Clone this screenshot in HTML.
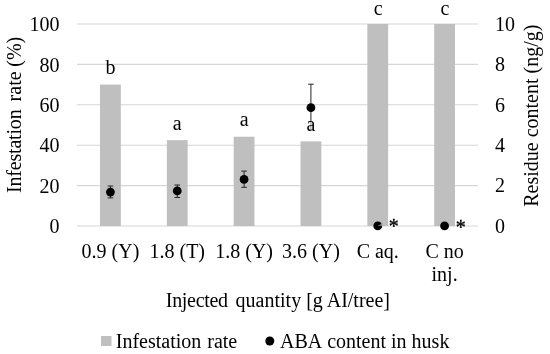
<!DOCTYPE html><html><head><meta charset="utf-8"><style>html,body{margin:0;padding:0;background:#fff;width:550px;height:354px;overflow:hidden}svg{display:block}text{font-family:"Liberation Serif","Times New Roman",serif;font-size:20px;fill:#000}</style></head><body>
<svg width="550" height="354" viewBox="0 0 550 354">
<rect width="550" height="354" fill="#fff"/>
<line x1="77.0" y1="226.00" x2="478.0" y2="226.00" stroke="#d6d6d6" stroke-width="1.1"/>
<line x1="77.0" y1="185.60" x2="478.0" y2="185.60" stroke="#d6d6d6" stroke-width="1.1"/>
<line x1="77.0" y1="145.20" x2="478.0" y2="145.20" stroke="#d6d6d6" stroke-width="1.1"/>
<line x1="77.0" y1="104.80" x2="478.0" y2="104.80" stroke="#d6d6d6" stroke-width="1.1"/>
<line x1="77.0" y1="64.40" x2="478.0" y2="64.40" stroke="#d6d6d6" stroke-width="1.1"/>
<line x1="77.0" y1="24.00" x2="478.0" y2="24.00" stroke="#d6d6d6" stroke-width="1.1"/>
<rect x="100.02" y="84.60" width="20.8" height="141.40" fill="#bfbfbf"/>
<rect x="166.85" y="140.15" width="20.8" height="85.85" fill="#bfbfbf"/>
<rect x="233.68" y="136.72" width="20.8" height="89.28" fill="#bfbfbf"/>
<rect x="300.52" y="141.36" width="20.8" height="84.64" fill="#bfbfbf"/>
<rect x="367.35" y="24.00" width="20.8" height="202.00" fill="#bfbfbf"/>
<rect x="434.18" y="24.00" width="20.8" height="202.00" fill="#bfbfbf"/>
<line x1="110.42" y1="186.0" x2="110.42" y2="197.9" stroke="#262626" stroke-width="1"/>
<line x1="107.62" y1="197.9" x2="113.22" y2="197.9" stroke="#262626" stroke-width="1"/>
<line x1="107.62" y1="186.0" x2="113.22" y2="186.0" stroke="#262626" stroke-width="1"/>
<circle cx="110.42" cy="192.1" r="4.4" fill="#000"/>
<line x1="177.25" y1="185.0" x2="177.25" y2="197.5" stroke="#262626" stroke-width="1"/>
<line x1="174.45" y1="197.5" x2="180.05" y2="197.5" stroke="#262626" stroke-width="1"/>
<line x1="174.45" y1="185.0" x2="180.05" y2="185.0" stroke="#262626" stroke-width="1"/>
<circle cx="177.25" cy="190.9" r="4.4" fill="#000"/>
<line x1="244.08" y1="171.1" x2="244.08" y2="187.3" stroke="#262626" stroke-width="1"/>
<line x1="241.28" y1="187.3" x2="246.88" y2="187.3" stroke="#262626" stroke-width="1"/>
<line x1="241.28" y1="171.1" x2="246.88" y2="171.1" stroke="#262626" stroke-width="1"/>
<circle cx="244.08" cy="179.4" r="4.4" fill="#000"/>
<line x1="310.92" y1="84.2" x2="310.92" y2="122" stroke="#262626" stroke-width="1"/>
<line x1="310.92" y1="122" x2="310.92" y2="130" stroke="#8c8c8c" stroke-width="1"/>
<line x1="308.12" y1="84.2" x2="313.72" y2="84.2" stroke="#262626" stroke-width="1"/>
<circle cx="310.92" cy="107.7" r="4.4" fill="#000"/>
<circle cx="377.75" cy="225.9" r="4.4" fill="#000"/>
<circle cx="444.58" cy="225.9" r="4.4" fill="#000"/>
<path d="M377.7 225.7 L382.2 223.7 L382.5 225.7 Z" fill="#a0a0a0"/>
<text x="110.42" y="74.3" text-anchor="middle">b</text>
<text x="177.25" y="130.0" text-anchor="middle">a</text>
<text x="244.08" y="126.4" text-anchor="middle">a</text>
<text x="310.92" y="131.0" text-anchor="middle">a</text>
<text x="378.15" y="14.5" text-anchor="middle">c</text>
<text x="444.98" y="14.5" text-anchor="middle">c</text>
<text x="388.75" y="232.5" stroke="#000" stroke-width="0.35">*</text>
<text x="455.78" y="233.7" stroke="#000" stroke-width="0.35">*</text>
<text x="59.6" y="233.10" text-anchor="end">0</text>
<text x="495" y="232.70">0</text>
<text x="59.6" y="192.70" text-anchor="end">20</text>
<text x="495" y="192.30">2</text>
<text x="59.6" y="152.30" text-anchor="end">40</text>
<text x="495" y="151.90">4</text>
<text x="59.6" y="111.90" text-anchor="end">60</text>
<text x="495" y="111.50">6</text>
<text x="59.6" y="71.50" text-anchor="end">80</text>
<text x="495" y="71.10">8</text>
<text x="59.6" y="31.10" text-anchor="end">100</text>
<text x="495" y="30.70">10</text>
<text x="110.42" y="257.8" text-anchor="middle">0.9 (Y)</text>
<text x="177.25" y="257.8" text-anchor="middle">1.8 (T)</text>
<text x="244.08" y="257.8" text-anchor="middle">1.8 (Y)</text>
<text x="310.92" y="257.8" text-anchor="middle">3.6 (Y)</text>
<text x="377.75" y="257.8" text-anchor="middle">C aq.</text>
<text x="444.58" y="257.8" text-anchor="middle">C no</text>
<text x="444.58" y="280.8" text-anchor="middle">inj.</text>
<text y="306.8"><tspan x="165.8" letter-spacing="-0.3">Injected</tspan><tspan x="235.6">quantity [g AI/tree]</tspan></text>
<text transform="translate(21.4,0) rotate(-90)"><tspan x="-193.0" letter-spacing="-0.19">Infestation</tspan><tspan x="-101.4">rate</tspan><tspan x="-66.74">(%)</tspan></text>
<text transform="translate(538,0) rotate(-90)"><tspan x="-206.8">Residue</tspan><tspan x="-137.36">content</tspan><tspan x="-73.48">(ng/g)</tspan></text>
<rect x="101" y="336" width="10.5" height="10" fill="#bfbfbf"/>
<text x="115.8" y="347.9" word-spacing="0.9">Infestation rate</text>
<circle cx="269.8" cy="341" r="4.5" fill="#000"/>
<text y="347.9"><tspan x="280">ABA</tspan><tspan x="327.2">content in husk</tspan></text>
</svg></body></html>
